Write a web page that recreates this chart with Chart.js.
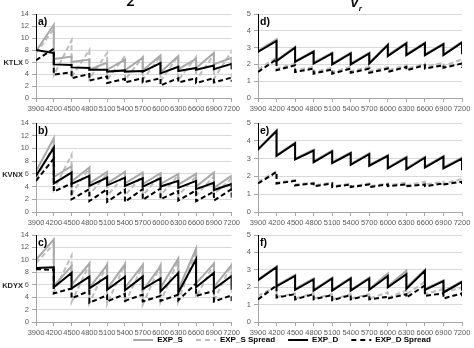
<!DOCTYPE html>
<html>
<head>
<meta charset="utf-8">
<script src="https://cdn.jsdelivr.net/npm/chart.js@4.4.1/dist/chart.umd.min.js"></script>
<style>
  body { margin: 0; background: #fff; }
  #wrap { position: relative; width: 474px; height: 348px; overflow: hidden; font-family: "Liberation Sans", Arial, sans-serif; }
  canvas { position: absolute; }
  .lbl { position: absolute; font-weight: bold; color: #262626; white-space: nowrap; line-height: 1; }
  .row { font-size: 7.5px; text-align: right; width: 40px; }
  .let { font-size: 10.5px; color: #000; }
  .ttl { font-size: 13px; font-style: italic; color: #000; }
  .ttl sub { font-size: 8px; }
</style>
</head>
<body>
<div id="wrap">
  <canvas id="pa" width="242" height="116" style="left:0;top:0"></canvas>
  <canvas id="pb" width="242" height="120" style="left:0;top:110px"></canvas>
  <canvas id="pc" width="242" height="118" style="left:0;top:222px"></canvas>
  <canvas id="pd" width="234" height="116" style="left:240px;top:0"></canvas>
  <canvas id="pe" width="234" height="120" style="left:240px;top:110px"></canvas>
  <canvas id="pf" width="234" height="118" style="left:240px;top:222px"></canvas>
  <canvas id="legend" width="384" height="70" style="left:90px;top:323px"></canvas>

  <div class="lbl ttl" style="left:127px;top:-5px">Z</div>
  <div class="lbl ttl" style="left:350px;top:-4px">V<sub>r</sub></div>

  <div class="lbl row" style="left:-17px;top:59px">KTLX</div>
  <div class="lbl row" style="left:-17px;top:171px">KVNX</div>
  <div class="lbl row" style="left:-17px;top:282px">KDYX</div>

  <div class="lbl let" style="left:38px;top:16px">a)</div>
  <div class="lbl let" style="left:38px;top:125px">b)</div>
  <div class="lbl let" style="left:38px;top:237px">c)</div>
  <div class="lbl let" style="left:260px;top:16px">d)</div>
  <div class="lbl let" style="left:260px;top:125px">e)</div>
  <div class="lbl let" style="left:260px;top:237px">f)</div>
</div>
<script>
const xTicks = [3900, 4200, 4500, 4800, 5100, 5400, 5700, 6000, 6300, 6600, 6900, 7200];

// each series: value just after the drop at every tick (12) and value reached at the next tick (11)
// a) KTLX, Z
const a_S_start  = [7.8, 6.5, 6.0, 4.7, 4.7, 4.6, 4.6, 4.3, 4.8, 5.0, 5.6, 5.5];
const a_S_end    = [12.2, 6.9, 6.4, 5.9, 6.4, 6.7, 7.1, 7.0, 6.5, 7.5, 6.7];
const a_Ss_start = [7.5, 3.8, 3.5, 3.2, 3.0, 3.0, 3.0, 2.8, 3.0, 3.0, 3.2, 3.2];
const a_Ss_end   = [11.5, 9.6, 8.0, 7.5, 7.0, 6.8, 7.0, 7.0, 6.8, 7.2, 7.8];
const a_D_start  = [8.0, 5.6, 5.1, 4.7, 4.4, 4.4, 4.4, 4.1, 4.5, 4.7, 4.8, 4.8];
const a_D_end    = [7.5, 5.5, 5.0, 4.7, 4.6, 4.5, 5.8, 5.2, 5.0, 5.4, 5.7];
const a_Ds_start = [6.3, 3.9, 3.3, 2.9, 2.5, 2.6, 2.6, 2.1, 2.6, 2.5, 2.6, 2.7];
const a_Ds_end   = [8.2, 4.3, 4.0, 3.6, 3.2, 3.3, 3.3, 3.3, 3.3, 3.3, 3.4];

// b) KVNX, Z
const b_S_start  = [6.4, 5.5, 4.8, 4.5, 4.5, 4.5, 4.4, 4.4, 4.3, 4.0, 3.8, 3.8];
const b_S_end    = [11.6, 7.2, 7.0, 6.3, 6.3, 6.2, 6.1, 6.0, 6.0, 6.2, 5.7];
const b_Ss_start = [5.3, 3.5, 2.8, 2.7, 2.5, 2.6, 2.6, 2.6, 2.6, 2.6, 2.8, 2.8];
const b_Ss_end   = [10.5, 9.0, 6.9, 6.0, 5.9, 5.8, 5.8, 5.8, 5.6, 5.6, 5.3];
const b_D_start  = [5.7, 4.5, 4.4, 4.1, 4.2, 4.1, 4.0, 4.0, 3.8, 3.6, 3.45, 3.3];
const b_D_end    = [10.1, 6.2, 5.7, 5.4, 5.4, 5.3, 5.3, 4.9, 4.9, 4.6, 4.4];
const b_Ds_start = [4.9, 3.2, 2.0, 1.7, 1.6, 1.6, 1.9, 2.0, 1.8, 1.7, 1.8, 1.8];
const b_Ds_end   = [8.4, 4.5, 3.6, 3.6, 3.5, 3.6, 3.7, 3.3, 3.4, 3.2, 3.6];

// c) KDYX, Z
const c_S_start  = [10.0, 5.8, 6.0, 5.5, 5.3, 5.5, 5.0, 5.5, 5.2, 6.2, 5.6, 5.5];
const c_S_end    = [13.3, 9.0, 9.4, 9.2, 9.3, 9.2, 9.0, 10.2, 11.8, 9.4, 9.2];
const c_Ss_start = [9.5, 4.8, 3.2, 3.0, 2.9, 3.0, 2.8, 3.2, 3.3, 4.0, 3.4, 3.4];
const c_Ss_end   = [12.5, 10.7, 9.3, 9.3, 9.3, 9.1, 9.2, 10.0, 11.5, 9.3, 9.3];
const c_D_start  = [8.7, 5.6, 5.4, 5.4, 5.2, 5.1, 5.3, 4.9, 4.7, 5.6, 5.3, 5.2];
const c_D_end    = [8.8, 7.9, 7.3, 7.3, 7.3, 7.3, 7.0, 7.9, 10.1, 7.9, 7.4];
const c_Ds_start = [8.5, 4.6, 3.8, 3.1, 3.3, 3.4, 3.3, 3.4, 3.5, 4.2, 3.3, 3.1];
const c_Ds_end   = [8.4, 5.4, 5.0, 4.3, 4.5, 4.4, 4.2, 4.4, 6.2, 5.0, 4.3];

// d) KTLX, Vr
const d_S_start  = [2.8, 2.25, 2.2, 2.1, 2.05, 2.05, 2.1, 2.55, 2.6, 2.6, 2.6, 2.65];
const d_S_end    = [3.5, 3.05, 2.8, 2.7, 2.7, 2.7, 3.2, 3.3, 3.3, 3.25, 3.35];
const d_Ss_start = [1.7, 1.75, 1.65, 1.55, 1.55, 1.6, 1.6, 1.65, 1.75, 1.85, 1.9, 1.9];
const d_Ss_end   = [2.4, 2.05, 1.85, 1.8, 1.85, 1.85, 1.85, 1.95, 2.05, 2.1, 2.3];
const d_D_start  = [2.75, 2.2, 2.15, 2.05, 2.0, 2.0, 2.05, 2.5, 2.55, 2.55, 2.55, 2.6];
const d_D_end    = [3.4, 3.0, 2.75, 2.65, 2.65, 2.65, 3.15, 3.25, 3.25, 3.2, 3.3];
const d_Ds_start = [1.55, 1.65, 1.55, 1.45, 1.45, 1.5, 1.5, 1.55, 1.65, 1.75, 1.8, 1.8];
const d_Ds_end   = [2.3, 1.95, 1.75, 1.7, 1.75, 1.75, 1.75, 1.85, 1.95, 1.95, 2.05];

// e) KVNX, Vr
const e_S_start  = [3.55, 3.2, 3.0, 2.85, 2.8, 2.7, 2.65, 2.5, 2.45, 2.55, 2.5, 2.4];
const e_S_end    = [4.6, 3.9, 3.5, 3.45, 3.35, 3.3, 3.2, 3.1, 3.1, 3.15, 3.05];
const e_Ss_start = [1.7, 1.65, 1.55, 1.5, 1.45, 1.45, 1.45, 1.5, 1.5, 1.55, 1.6, 1.6];
const e_Ss_end   = [2.3, 1.8, 1.65, 1.65, 1.6, 1.6, 1.6, 1.65, 1.7, 1.7, 1.85];
const e_D_start  = [3.5, 3.15, 2.95, 2.8, 2.75, 2.65, 2.6, 2.45, 2.4, 2.5, 2.45, 2.35];
const e_D_end    = [4.55, 3.85, 3.45, 3.4, 3.3, 3.25, 3.15, 3.05, 3.05, 3.1, 3.0];
const e_Ds_start = [1.6, 1.6, 1.5, 1.45, 1.4, 1.4, 1.4, 1.45, 1.45, 1.45, 1.55, 1.55];
const e_Ds_end   = [2.25, 1.75, 1.6, 1.6, 1.55, 1.55, 1.55, 1.55, 1.55, 1.6, 1.7];

// f) KDYX, Vr
const f_S_start  = [2.45, 2.1, 1.9, 1.85, 1.85, 1.85, 1.9, 2.05, 2.0, 1.9, 1.75, 1.85];
const f_S_end    = [3.2, 2.7, 2.5, 2.55, 2.55, 2.55, 2.8, 2.95, 3.0, 2.4, 2.35];
const f_Ss_start = [1.5, 1.45, 1.35, 1.35, 1.3, 1.35, 1.35, 1.4, 1.6, 1.6, 1.7, 1.6];
const f_Ss_end   = [2.05, 1.65, 1.65, 1.6, 1.6, 1.6, 1.7, 1.8, 2.3, 1.9, 2.0];
const f_D_start  = [2.4, 2.05, 1.85, 1.8, 1.8, 1.8, 1.85, 2.0, 1.9, 1.85, 1.7, 1.8];
const f_D_end    = [3.15, 2.65, 2.45, 2.5, 2.5, 2.5, 2.65, 2.75, 2.95, 2.35, 2.3];
const f_Ds_start = [1.3, 1.4, 1.3, 1.3, 1.25, 1.3, 1.3, 1.35, 1.4, 1.5, 1.35, 1.4];
const f_Ds_end   = [2.1, 1.6, 1.6, 1.55, 1.55, 1.55, 1.45, 1.6, 2.1, 1.65, 1.65];

const seriesNames = ['EXP_S', 'EXP_S Spread', 'EXP_D', 'EXP_D Spread'];
const seriesStyle = [
  { borderColor: '#a9a9a9', borderDash: [], order: 2 },
  { borderColor: '#bdbdbd', borderDash: [5, 3], order: 3 },
  { borderColor: '#000000', borderDash: [], order: 0 },
  { borderColor: '#000000', borderDash: [5, 3], order: 1 }
];

// turn start/end arrays into a sawtooth with vertical drops at each tick
function saw(start, end) {
  const pts = [{ x: xTicks[0], y: start[0] }];
  for (let i = 1; i < xTicks.length; i++) {
    pts.push({ x: xTicks[i], y: end[i - 1] });
    pts.push({ x: xTicks[i], y: start[i] });
  }
  return pts;
}

const tickFont = { family: '"Liberation Sans", Arial, sans-serif', size: 7.5 };

function makePanel(id, yMax, yStep, yWidth, padTop, padRight, arrays) {
  const datasets = arrays.map((pair, i) => {
    const pts = saw(pair[0], pair[1]);
    // EXP_D comes in from above the top of the axis at the first tick
    if (i === 2) pts.unshift({ x: xTicks[0], y: yMax });
    return Object.assign({
      label: seriesNames[i],
      data: pts,
      borderWidth: 2,
      pointRadius: 0,
      tension: 0,
      fill: false
    }, seriesStyle[i]);
  });

  new Chart(document.getElementById(id), {
    type: 'line',
    data: { datasets: datasets },
    options: {
      responsive: false,
      animation: false,
      events: [],
      devicePixelRatio: 1,
      layout: { padding: { top: padTop, right: padRight, left: 0, bottom: 0 } },
      plugins: { legend: { display: false }, tooltip: { enabled: false } },
      scales: {
        x: {
          type: 'linear',
          min: 3900,
          max: 7200,
          afterFit: (s) => { s.height = 18; },
          ticks: {
            stepSize: 300,
            autoSkip: false,
            maxRotation: 0,
            padding: 2,
            color: '#595959',
            font: tickFont,
            callback: (v) => String(v)
          },
          grid: { drawOnChartArea: false, tickLength: 4, tickColor: '#a6a6a6' },
          border: { color: '#a6a6a6' }
        },
        y: {
          min: 0,
          max: yMax,
          afterFit: (s) => { s.width = yWidth; },
          ticks: { stepSize: yStep, autoSkip: false, padding: 3, color: '#595959', font: tickFont },
          grid: { color: '#d9d9d9', tickLength: 4, tickColor: '#a6a6a6' },
          border: { color: '#a6a6a6' }
        }
      }
    }
  });
}

makePanel('pa', 14, 2, 36, 14, 10, [[a_S_start, a_S_end], [a_Ss_start, a_Ss_end], [a_D_start, a_D_end], [a_Ds_start, a_Ds_end]]);
makePanel('pb', 14, 2, 36, 13, 10, [[b_S_start, b_S_end], [b_Ss_start, b_Ss_end], [b_D_start, b_D_end], [b_Ds_start, b_Ds_end]]);
makePanel('pc', 14, 2, 36, 13, 10, [[c_S_start, c_S_end], [c_Ss_start, c_Ss_end], [c_D_start, c_D_end], [c_Ds_start, c_Ds_end]]);
makePanel('pd', 5, 1, 18, 14, 12, [[d_S_start, d_S_end], [d_Ss_start, d_Ss_end], [d_D_start, d_D_end], [d_Ds_start, d_Ds_end]]);
makePanel('pe', 5, 1, 18, 13, 12, [[e_S_start, e_S_end], [e_Ss_start, e_Ss_end], [e_D_start, e_D_end], [e_Ds_start, e_Ds_end]]);
makePanel('pf', 5, 1, 18, 13, 12, [[f_S_start, f_S_end], [f_Ss_start, f_Ss_end], [f_D_start, f_D_end], [f_Ds_start, f_Ds_end]]);

// shared legend; items built from the dataset styles so dashes show up
new Chart(document.getElementById('legend'), {
  type: 'line',
  data: {
    datasets: seriesNames.map((name, i) => Object.assign({
      label: name, data: [], borderWidth: 2
    }, seriesStyle[i], { order: 0 }))
  },
  options: {
    responsive: false,
    animation: false,
    events: [],
    devicePixelRatio: 1,
    layout: { padding: 0 },
    scales: { x: { display: false }, y: { display: false } },
    plugins: {
      tooltip: { enabled: false },
      legend: {
        position: 'top',
        labels: {
          usePointStyle: true,
          pointStyle: 'line',
          pointStyleWidth: 20,
          boxHeight: 8,
          padding: 13,
          color: '#404040',
          font: { family: '"Liberation Sans", Arial, sans-serif', size: 8, weight: 'bold' },
          generateLabels: (chart) => chart.data.datasets.map((ds, i) => ({
            text: ds.label,
            datasetIndex: i,
            strokeStyle: ds.borderColor,
            fillStyle: ds.borderColor,
            lineWidth: 2,
            lineDash: ds.borderDash.length ? [5, 4] : [],
            pointStyle: 'line',
            hidden: false
          }))
        }
      }
    }
  }
});
</script>
</body>
</html>
